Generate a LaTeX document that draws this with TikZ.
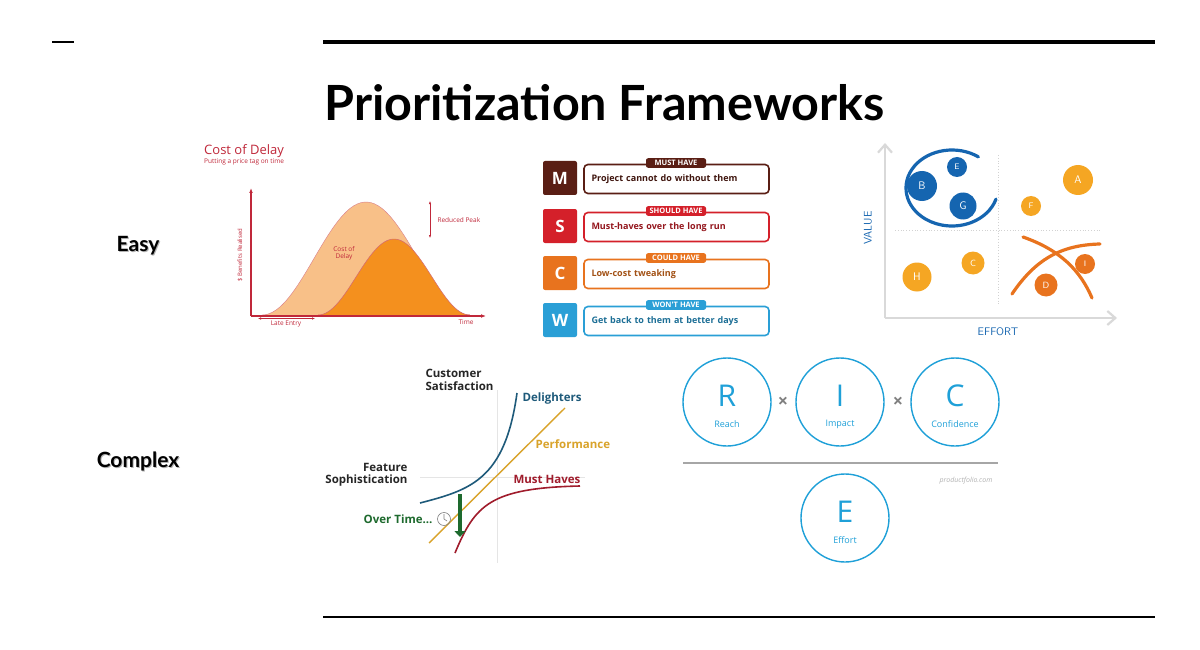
\documentclass[tikz,border=0pt]{standalone}
\usepackage{fontspec}
\setmainfont{Lato}
\newfontfamily\osans{Open Sans}
\usetikzlibrary{arrows.meta}
\definecolor{codred}{HTML}{C0283A}
\definecolor{codlight}{HTML}{F8C088}
\definecolor{coddark}{HTML}{F4901E}
\definecolor{mbrown}{HTML}{5A1E14}
\definecolor{mred}{HTML}{D4202A}
\definecolor{morange}{HTML}{E8731E}
\definecolor{mblue}{HTML}{2A9FD6}
\definecolor{vblue}{HTML}{1565B0}
\definecolor{vyel}{HTML}{F5A623}
\definecolor{vor}{HTML}{E8731E}
\definecolor{kblue}{HTML}{1E5A7A}
\definecolor{kgold}{HTML}{D9A32A}
\definecolor{kred}{HTML}{A01C2C}
\definecolor{kgreen}{HTML}{1E6A2E}
\definecolor{rblue}{HTML}{1FA0D8}
\tikzset{
 letterbox/.style={fill=#1,rounded corners=2pt,minimum size=34pt,text=white,font=\osans\bfseries\fontsize{17}{17}\selectfont},
 textbox/.style={draw=#1,line width=1.6pt,rounded corners=4pt,minimum width=185pt,minimum height=29pt,text=#1!70!black,font=\osans\bfseries\fontsize{9}{9}\selectfont,anchor=center,text width=170pt,align=left},
 tab/.style={fill=#1,rounded corners=2pt,text=white,font=\osans\bfseries\fontsize{7.5}{7.5}\selectfont,inner sep=2pt,minimum width=60pt},
 ball/.style={circle,fill=#1,text=white,font=\sffamily\fontsize{11}{11}\selectfont,inner sep=0pt},
 rice/.style={circle,draw=rblue,line width=1.4pt,minimum size=88pt,inner sep=0pt},
 kano/.style={font=\osans\bfseries\fontsize{11.5}{12.5}\selectfont},
}
\begin{document}
\begin{tikzpicture}[x=1pt,y=-1pt]
\useasboundingbox (0,0) rectangle (1200,650);
\fill[white] (0,0) rectangle (1200,650);
% lines
\draw[line width=2pt] (52,42) -- (74,42);
\draw[line width=4pt] (323,42) -- (1155,42);
\draw[line width=2pt] (323,617) -- (1155,617);
\node[anchor=west,font=\bfseries\fontsize{48.5}{48}\selectfont] (title) at (321,103) {Prioritization Frameworks};
\node[text=black!30] at (139,247) {\textbf{\fontsize{21}{21}\selectfont Easy}};
\node (easy) at (138,246) {\textbf{\fontsize{21}{21}\selectfont Easy}};
\node[text=black!30] at (139,462) {\textbf{\fontsize{21}{21}\selectfont Complex}};
\node (complex) at (138,461) {\textbf{\fontsize{21}{21}\selectfont Complex}};
% Cost of delay
\node[anchor=west,text=codred,font=\osans\fontsize{13}{13}\selectfont,inner sep=0] (codt) at (204,151) {Cost of Delay};
\node[anchor=west,text=codred,font=\osans\fontsize{6.5}{6.5}\selectfont,inner sep=0] (cods) at (204,162) {Putting a price tag on time};
\fill[codlight] plot[domain=0:1,samples=60,smooth] ({262+208*\x},{315-113*(1-cos(360*\x))/2}) -- cycle;
\draw[codred!60,line width=0.4pt] plot[domain=0:1,samples=60,smooth] ({262+208*\x},{315-113*(1-cos(360*\x))/2});
\fill[coddark] plot[domain=0:1,samples=60,smooth] ({318+152*\x},{315-76*(1-cos(360*\x))/2}) -- cycle;
\draw[codred!70,line width=0.5pt] plot[domain=0:1,samples=60,smooth] ({318+152*\x},{315-76*(1-cos(360*\x))/2});
\draw[codred,line width=1.3pt,-{Latex[length=5pt]}] (251,316) -- (251,188);
\draw[codred,line width=1.3pt,-{Latex[length=5pt]}] (251,316) -- (486,316);
\node[rotate=90,text=codred,font=\osans\fontsize{6}{6}\selectfont] (ylab) at (240,255) {\$ Benefits Realised};
\node[text=codred,font=\osans\fontsize{6.5}{7}\selectfont,align=center] (codl) at (344,253) {Cost of\\Delay};
\node[anchor=west,text=codred,font=\osans\fontsize{6.5}{6.5}\selectfont] (rp) at (434,220) {Reduced Peak};
\draw[codred,{Latex[length=3pt]}-{Latex[length=3pt]}] (430,201) -- (430,238);
\draw[codred,{Latex[length=3pt]}-{Latex[length=3pt]}] (258,318.5) -- (315,318.5);
\node[text=codred,font=\osans\fontsize{6.5}{6.5}\selectfont] (le) at (286,324) {Late Entry};
\node[text=codred,font=\osans\fontsize{6.5}{6.5}\selectfont] (tm) at (466,322) {Time};
% MoSCoW
\foreach \L/\c/\y/\t/\txt in {M/mbrown/178/MUST HAVE/Project cannot do without them,S/mred/226/SHOULD HAVE/Must-haves over the long run,C/morange/273/COULD HAVE/Low-cost tweaking,W/mblue/320/WON'T HAVE/Get back to them at better days}{
 \node[letterbox=\c] (l\L) at (560,\y) {\L};
 \node[textbox=\c] (b\L) at (676.5,\y+1) {\txt};
 \node[tab=\c] (t\L) at (676,\y-15) {\t};
}
% Value effort
\draw[gray!35,dotted,line width=0.8pt] (998,155) -- (998,305);
\draw[gray!35,dotted,line width=0.8pt] (895,230) -- (1100,230);
\draw[gray!30,line width=2.2pt,-{Straight Barb[length=8pt,width=14pt]}] (885,318) -- (885,143);
\draw[gray!30,line width=2.2pt,-{Straight Barb[length=8pt,width=14pt]}] (885,318) -- (1117,318);
\node[rotate=90,text=vblue,font=\sffamily\fontsize{11}{11}\selectfont] (val) at (868,228) {VALUE};
\node[text=vblue,font=\sffamily\fontsize{11}{11}\selectfont] (eff) at (998,332) {EFFORT};
\draw[vblue,line width=3.2pt,line cap=round] (952,188) ++(-55:46 and 38) arc[start angle=-55,end angle=-343,x radius=46,y radius=38];
\node[ball=vblue,minimum size=30pt] (B) at (922,186) {B};
\node[ball=vblue,minimum size=20pt,font=\sffamily\fontsize{8}{8}\selectfont] (E) at (957,167) {E};
\node[ball=vblue,minimum size=27pt] (G) at (963,206) {G};
\node[ball=vyel,minimum size=30pt] (A) at (1078,180) {A};
\node[ball=vyel,minimum size=20pt,font=\sffamily\fontsize{8}{8}\selectfont] (F) at (1031,206) {F};
\node[ball=vyel,minimum size=23pt,font=\sffamily\fontsize{9}{9}\selectfont] (C) at (973,263) {C};
\node[ball=vyel,minimum size=29pt] (H) at (917,277) {H};
\node[ball=vor,minimum size=23pt,font=\sffamily\fontsize{9}{9}\selectfont] (D) at (1046,285) {D};
\node[ball=vor,minimum size=20pt,font=\sffamily\fontsize{8}{8}\selectfont] (I) at (1085,264) {I};
\draw[vor,line width=3.2pt,line cap=round] (1023,237) .. controls (1060,250) and (1080,270) .. (1092,298);
\draw[vor,line width=3.2pt,line cap=round] (1012,294) .. controls (1035,260) and (1060,245) .. (1100,244);
% Kano
\draw[gray!20,line width=0.8pt] (497,390) -- (497,563);
\draw[gray!20,line width=0.8pt] (420,477) -- (585,477);
\draw[kblue,line width=1.6pt] (420,503) .. controls (470,490) and (505,480) .. (517,393);
\draw[kgold,line width=1.4pt] (429,543) -- (565,408);
\draw[kred,line width=1.6pt] (455,553) .. controls (475,505) and (490,488) .. (580,486);
\draw[kgreen,line width=4pt,-{Triangle[length=6pt,width=11pt]}] (460,494) -- (460,537);
\draw[gray,line width=0.6pt] (444,519) circle (6.5pt);
\draw[gray,line width=0.6pt] (444,519) -- (444,514) (444,519) -- (447,521);
\node[kano,align=left,anchor=west,text=black!85] (cs) at (422,380) {Customer\\Satisfaction};
\node[kano,align=right,anchor=east,text=black!85] (fs) at (411,475) {Feature\\Sophistication};
\node[kano,text=kblue,anchor=west] (del) at (519,399) {Delighters};
\node[kano,text=kgold,anchor=west] (perf) at (532,444) {Performance};
\node[kano,text=kred,anchor=west] (mh) at (510,479) {Must Haves};
\node[kano,text=kgreen,anchor=east] (ot) at (436,519) {Over Time...};
% RICE
\node[rice] (R) at (727,402) {}; \node[text=rblue,font=\osans\fontsize{30}{30}\selectfont] at (727,396) {R}; \node[text=rblue,font=\osans\fontsize{9}{9}\selectfont] at (727,424) {Reach};
\node[rice] (Ic) at (840,402) {}; \node[text=rblue,font=\osans\fontsize{30}{30}\selectfont] at (840,396) {I}; \node[text=rblue,font=\osans\fontsize{9}{9}\selectfont] at (840,424) {Impact};
\node[rice] (Cc) at (955,402) {}; \node[text=rblue,font=\osans\fontsize{30}{30}\selectfont] at (955,396) {C}; \node[text=rblue,font=\osans\fontsize{9}{9}\selectfont] at (955,424) {Confidence};
\node[rice] (Ec) at (845,518) {}; \node[text=rblue,font=\osans\fontsize{30}{30}\selectfont] at (845,512) {E}; \node[text=rblue,font=\osans\fontsize{9}{9}\selectfont] at (845,540) {Effort};
\node[text=gray,font=\osans\bfseries\fontsize{18}{18}\selectfont] (x1) at (783,402) {×};
\node[text=gray,font=\osans\bfseries\fontsize{18}{18}\selectfont] (x2) at (898,402) {×};
\draw[gray!70,line width=2.5pt] (683,463) -- (998,463);
\node[text=gray!60,font=\osans\itshape\fontsize{7}{7}\selectfont] (pf) at (966,481) {productfolio.com};
\end{tikzpicture}
\end{document}
